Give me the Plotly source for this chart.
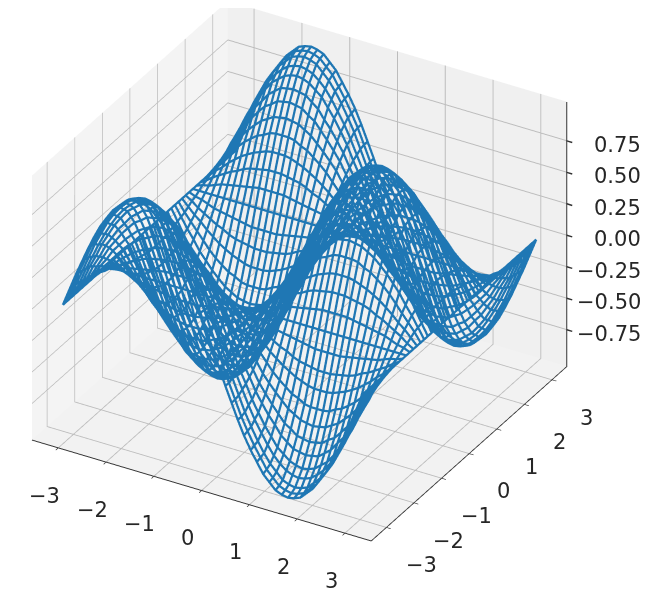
import plotly.graph_objects as go

x_vals = [-3.14, -3.01, -2.88, -2.75, -2.62, -2.49, -2.36, -2.23, -2.09, -1.96, -1.83, -1.70, -1.57, -1.44, -1.31, -1.18, -1.05, -0.92, -0.79, -0.65, -0.52, -0.39, -0.26, -0.13, 0.0,
          0.13, 0.26, 0.39, 0.52, 0.65, 0.79, 0.92, 1.05, 1.18, 1.31, 1.44, 1.57, 1.70, 1.83, 1.96, 2.09, 2.23, 2.36, 2.49, 2.62, 2.75, 2.88, 3.01, 3.14]
y_vals = [-3.14, -3.01, -2.88, -2.75, -2.62, -2.49, -2.36, -2.23, -2.09, -1.96, -1.83, -1.70, -1.57, -1.44, -1.31, -1.18, -1.05, -0.92, -0.79, -0.65, -0.52, -0.39, -0.26, -0.13, 0.0,
          0.13, 0.26, 0.39, 0.52, 0.65, 0.79, 0.92, 1.05, 1.18, 1.31, 1.44, 1.57, 1.70, 1.83, 1.96, 2.09, 2.23, 2.36, 2.49, 2.62, 2.75, 2.88, 3.01, 3.14]

# Height profiles along x; the surface repeats these across y.
row_100 = [0,-.13,-.26,-.38,-.5,-.61,-.71,-.79,-.87,-.92,-.97,-.99,-1,-.99,-.97,-.92,-.87,-.79,-.71,-.61,-.5,-.38,-.26,-.13,0,.13,.26,.38,.5,.61,.71,.79,.87,.92,.97,.99,1,.99,.97,.92,.87,.79,.71,.61,.5,.38,.26,.13,0]
row_99 = [0,-.13,-.26,-.38,-.5,-.6,-.7,-.78,-.86,-.91,-.96,-.98,-.99,-.98,-.96,-.91,-.86,-.78,-.7,-.6,-.5,-.38,-.26,-.13,0,.13,.26,.38,.5,.6,.7,.78,.86,.91,.96,.98,.99,.98,.96,.91,.86,.78,.7,.6,.5,.38,.26,.13,0]
row_97 = [0,-.13,-.25,-.37,-.49,-.59,-.69,-.77,-.84,-.89,-.94,-.96,-.97,-.96,-.94,-.89,-.84,-.77,-.69,-.59,-.49,-.37,-.25,-.13,0,.13,.25,.37,.49,.59,.69,.77,.84,.89,.94,.96,.97,.96,.94,.89,.84,.77,.69,.59,.49,.37,.25,.13,0]
row_92 = [0,-.12,-.24,-.35,-.46,-.56,-.65,-.73,-.8,-.85,-.89,-.91,-.92,-.91,-.89,-.85,-.8,-.73,-.65,-.56,-.46,-.35,-.24,-.12,0,.12,.24,.35,.46,.56,.65,.73,.8,.85,.89,.91,.92,.91,.89,.85,.8,.73,.65,.56,.46,.35,.24,.12,0]
row_87 = [0,-.11,-.23,-.33,-.44,-.53,-.62,-.69,-.76,-.8,-.84,-.86,-.87,-.86,-.84,-.8,-.76,-.69,-.62,-.53,-.44,-.33,-.23,-.11,0,.11,.23,.33,.44,.53,.62,.69,.76,.8,.84,.86,.87,.86,.84,.8,.76,.69,.62,.53,.44,.33,.23,.11,0]
row_79 = [0,-.1,-.21,-.3,-.4,-.48,-.56,-.62,-.69,-.73,-.77,-.78,-.79,-.78,-.77,-.73,-.69,-.62,-.56,-.48,-.4,-.3,-.21,-.1,0,.1,.21,.3,.4,.48,.56,.62,.69,.73,.77,.78,.79,.78,.77,.73,.69,.62,.56,.48,.4,.3,.21,.1,0]
row_71 = [0,-.09,-.18,-.27,-.36,-.43,-.5,-.56,-.62,-.65,-.69,-.7,-.71,-.7,-.69,-.65,-.62,-.56,-.5,-.43,-.36,-.27,-.18,-.09,0,.09,.18,.27,.36,.43,.5,.56,.62,.65,.69,.7,.71,.7,.69,.65,.62,.56,.5,.43,.36,.27,.18,.09,0]
row_61 = [0,-.08,-.16,-.23,-.31,-.37,-.43,-.48,-.53,-.56,-.59,-.6,-.61,-.6,-.59,-.56,-.53,-.48,-.43,-.37,-.31,-.23,-.16,-.08,0,.08,.16,.23,.31,.37,.43,.48,.53,.56,.59,.6,.61,.6,.59,.56,.53,.48,.43,.37,.31,.23,.16,.08,0]
row_50 = [0,-.07,-.13,-.19,-.25,-.31,-.36,-.4,-.44,-.46,-.49,-.5,-.5,-.5,-.49,-.46,-.44,-.4,-.36,-.31,-.25,-.19,-.13,-.07,0,.07,.13,.19,.25,.31,.36,.4,.44,.46,.49,.5,.5,.5,.49,.46,.44,.4,.36,.31,.25,.19,.13,.07,0]
row_38 = [0,-.05,-.1,-.14,-.19,-.23,-.27,-.3,-.33,-.35,-.37,-.38,-.38,-.38,-.37,-.35,-.33,-.3,-.27,-.23,-.19,-.14,-.1,-.05,0,.05,.1,.14,.19,.23,.27,.3,.33,.35,.37,.38,.38,.38,.37,.35,.33,.3,.27,.23,.19,.14,.1,.05,0]
row_26 = [0,-.03,-.07,-.1,-.13,-.16,-.18,-.21,-.23,-.24,-.25,-.26,-.26,-.26,-.25,-.24,-.23,-.21,-.18,-.16,-.13,-.1,-.07,-.03,0,.03,.07,.1,.13,.16,.18,.21,.23,.24,.25,.26,.26,.26,.25,.24,.23,.21,.18,.16,.13,.1,.07,.03,0]
row_13 = [0,-.02,-.03,-.05,-.07,-.08,-.09,-.1,-.11,-.12,-.13,-.13,-.13,-.13,-.13,-.12,-.11,-.1,-.09,-.08,-.07,-.05,-.03,-.02,0,.02,.03,.05,.07,.08,.09,.1,.11,.12,.13,.13,.13,.13,.13,.12,.11,.1,.09,.08,.07,.05,.03,.02,0]
row_00 = [0] * 49

def flip(row):
    return [-v for v in row]

rising = [row_00, row_13, row_26, row_38, row_50, row_61, row_71, row_79, row_87, row_92, row_97, row_99, row_100]
falling = [row_99, row_97, row_92, row_87, row_79, row_71, row_61, row_50, row_38, row_26, row_13, row_00]
z_rows = ([flip(r) for r in reversed(rising[1:])] + rising + falling
          + [flip(r) for r in rising[1:]])

xy_ticks = [-3, -2, -1, 0, 1, 2, 3]
xy_tick_labels = ["\u22123", "\u22122", "\u22121", "0", "1", "2", "3"]
z_ticks = [-0.75, -0.5, -0.25, 0, 0.25, 0.5, 0.75]
z_tick_labels = ["\u22120.75", "\u22120.50", "\u22120.25", "0.00", "0.25", "0.50", "0.75"]
xy_limit = 3.55
z_low, z_high = -1.04, 1.06

lx, ly, lz = [], [], []
for i, row in enumerate(z_rows):
    lx += x_vals + [None]; ly += [y_vals[i]] * len(x_vals) + [None]; lz += row + [None]
for j in range(len(x_vals)):
    lx += [x_vals[j]] * len(y_vals) + [None]; ly += y_vals + [None]; lz += [r[j] for r in z_rows] + [None]

fig = go.Figure(go.Scatter3d(x=lx, y=ly, z=lz, mode="lines", line=dict(color="#1f77b4", width=4.5),
                             connectgaps=False, hoverinfo="skip"))
ax_color = "#333333"
edge = xy_limit - 0.005
fig.add_trace(go.Scatter3d(x=[edge, edge], y=[edge, edge], z=[z_low + 0.001, z_high - 0.001], mode="lines",
                           line=dict(color=ax_color, width=2), hoverinfo="skip"))
text_font = dict(family="DejaVu Sans", size=21, color="#262626")
annotations = []
for t, lab in zip(z_ticks, z_tick_labels):
    annotations.append(dict(x=edge, y=edge, z=t, text="", showarrow=True, arrowhead=0, arrowwidth=1.5,
                            arrowcolor=ax_color, ax=7, ay=2, standoff=0))
    annotations.append(dict(x=edge, y=edge, z=t, text=lab, showarrow=False, xanchor="right", xshift=76, yshift=-4,
                            font=text_font))
for t, lab in zip(xy_ticks, xy_tick_labels):
    annotations.append(dict(x=t, y=-edge, z=z_low + 0.001, text=lab, showarrow=False, xanchor="center", yanchor="middle",
                            xshift=-14, yshift=-48, font=text_font))
    annotations.append(dict(x=edge, y=t, z=z_low + 0.001, text=lab, showarrow=False, xanchor="center", yanchor="middle",
                            xshift=35, yshift=-38, font=text_font))

def ax(vals, rng, bg):
    return dict(range=rng, tickvals=vals, showbackground=True, backgroundcolor=bg, gridcolor="#bcbcbc", gridwidth=2,
                showline=True, linecolor=ax_color, linewidth=2, ticks="outside", ticklen=5, tickcolor=ax_color,
                tickwidth=1.5, showticklabels=False, zeroline=False, title=dict(text=""), showspikes=False)
zaxis = ax(z_ticks, [z_low, z_high], "#f2f2f2")
zaxis.update(ticks="", showline=False)
fig.update_layout(
    width=649, height=605, margin=dict(l=0, r=0, t=0, b=0), paper_bgcolor="white", showlegend=False,
    scene=dict(
        domain=dict(x=[0, 1], y=[0, 1]),
        xaxis=ax(xy_ticks, [-xy_limit, xy_limit], "#f4f4f4"),
        yaxis=ax(xy_ticks, [-xy_limit, xy_limit], "#f0f0f0"),
        zaxis=zaxis,
        aspectmode="manual", aspectratio=dict(x=1.295, y=1.295, z=1.02),
        camera=dict(eye=dict(x=1.037, y=-1.578, z=0.98), center=dict(x=0.094, y=0.055, z=-0.153),
                    up=dict(x=0, y=0, z=1), projection=dict(type="orthographic")),
        annotations=annotations,
    ),
)
fig.write_html("out.html")
